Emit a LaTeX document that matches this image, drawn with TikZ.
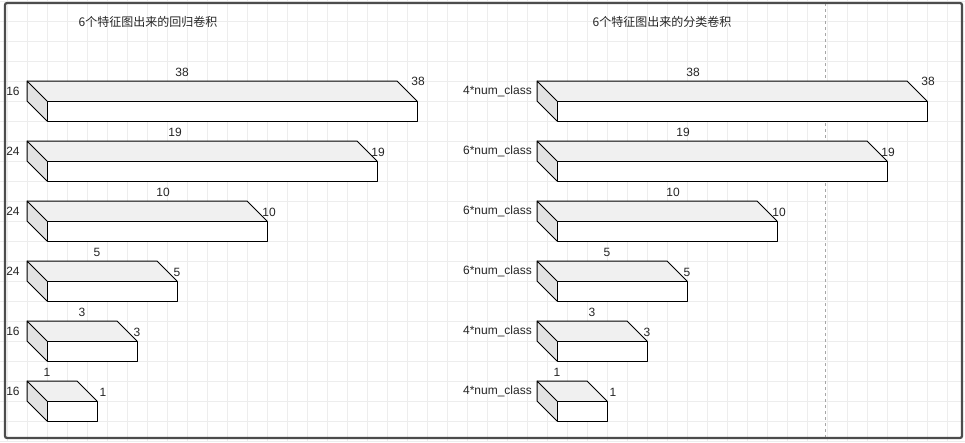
\documentclass[tikz,border=0pt]{standalone}
\usepackage{fontspec}
\setmainfont{Liberation Sans}
\newfontfamily\cjk{Noto Sans CJK SC}
\begin{document}
\begin{tikzpicture}[x=1pt,y=-1pt,
  lbl/.style={font=\fontsize{12}{14}\selectfont,inner sep=0pt,text=black!85},
  face/.style={draw=black,line width=1pt,line join=round}]
\useasboundingbox (0,0) rectangle (965,442);
\fill[white] (0,0) rectangle (965,442);
\foreach \x in {7,27,...,965} \draw[black!7,line width=0.6pt] (\x,0) -- (\x,442);
\foreach \y in {1,21,...,442} \draw[black!7,line width=0.6pt] (0,\y) -- (965,\y);
\draw[black!35,dashed,line width=0.7pt] (825,3) -- (825,438);
\draw[black!70,line width=2.2pt,rounded corners=2pt] (5,3) rectangle (962,438);
\newcommand{\mycube}[3]{% x y frontwidth
  \fill[black!11] (#1,#2) -- (#1+20,#2+20) -- (#1+20,#2+40) -- (#1,#2+20) -- cycle;
  \fill[black!6] (#1,#2) -- (#1+#3,#2) -- (#1+#3+20,#2+20) -- (#1+20,#2+20) -- cycle;
  \draw[face,fill=white] (#1+20,#2+20) rectangle (#1+20+#3,#2+40);
  \draw[face] (#1,#2) -- (#1+#3,#2) -- (#1+#3+20,#2+20);
  \draw[face] (#1+20,#2+20) -- (#1,#2) -- (#1,#2+20) -- (#1+20,#2+40);
}
\foreach \y/\w in {81/370,141/330,201/220,261/130,321/90,381/50}{
  \mycube{27}{\y}{\w}
  \mycube{537}{\y}{\w}
}
\node[lbl] (t1) at (148,22) {\cjk 6个特征图出来的回归卷积};
\node[lbl] (t2) at (662,22) {\cjk 6个特征图出来的分类卷积};
\foreach \y/\tx/\rx/\ta/\ra/\v/\l/\r/\dy in {81/182/418/693/928/38/16/4/0,141/175/378/683/888/19/24/6/11,201/163/269/673/779/10/24/6/11,261/97/177/607/687/5/24/6/11,321/82/137/592/647/3/16/4/11,381/47/103/557/613/1/16/4/11}{
  \node[lbl] at (\tx,\y-9) {\v};
  \node[lbl] at (\rx,\y+\dy) {\v};
  \node[lbl] at (\ta,\y-9) {\v};
  \node[lbl] at (\ra,\y+\dy) {\v};
  \node[lbl] at (13,\y+10) {\l};
  \node[lbl,anchor=east] at (532,\y+10) {\r*num\_class};
}
\end{tikzpicture}
\end{document}
